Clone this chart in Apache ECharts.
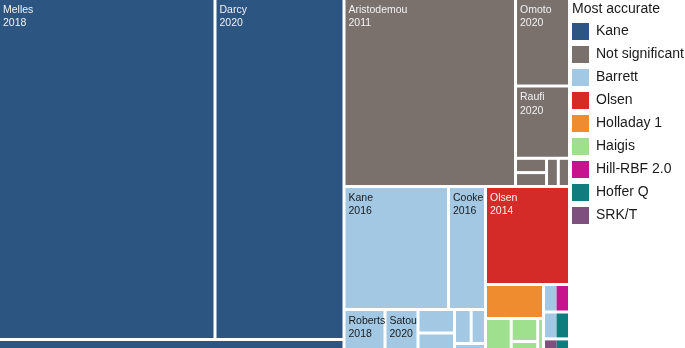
<!DOCTYPE html>
<html>
<head>
<meta charset="utf-8">
<script src="https://cdn.jsdelivr.net/npm/echarts@6/dist/echarts.min.js"></script>
<style>
  html, body { margin: 0; padding: 0; background: #fff; }
  #chart { width: 685px; height: 348px; }
</style>
</head>
<body>
<div id="chart"></div>
<script>
// legend: most accurate formula per study
var categories = ['Kane', 'Not significant', 'Barrett', 'Olsen', 'Holladay 1', 'Haigis', 'Hill-RBF 2.0', 'Hoffer Q', 'SRK/T'];
var palette = ['#2c5582', '#7a706c', '#a2c8e4', '#d42a28', '#f08c30', '#9ee08e', '#c8148c', '#0f7d7d', '#7d507d'];

// studies (size = number of eyes), '' = too small to label
var studyAuthor = ['Melles', 'Darcy', '',
                   'Aristodemou', 'Omoto', 'Raufi', '', '', '', '',
                   'Kane', 'Cooke', 'Roberts', 'Satou', '', '', '', '', '',
                   'Olsen',
                   '',
                   '', '', '', ''];
var studyYear = [2018, 2020, null,
                 2011, 2020, 2020, null, null, null, null,
                 2016, 2016, 2018, 2020, null, null, null, null, null,
                 2014,
                 null,
                 null, null, null, null];
var studyEyes = [18501, 11024, 866,
                 8080, 1184, 978, 111, 108, 83, 79,
                 3221, 1140, 411, 331, 214, 152, 142, 122, 47,
                 2063,
                 493,
                 200, 154, 53, 45];
var studyGroup = ['Kane', 'Kane', 'Kane',
                  'Not significant', 'Not significant', 'Not significant', 'Not significant', 'Not significant', 'Not significant', 'Not significant',
                  'Barrett', 'Barrett', 'Barrett', 'Barrett', 'Barrett', 'Barrett', 'Barrett', 'Barrett', 'Barrett',
                  'Olsen',
                  'Holladay 1',
                  'Haigis', 'Haigis', 'Haigis', 'Haigis'];

// studies where two formulas tie
var tiedGroups = [['Barrett', 'Hill-RBF 2.0'], ['Barrett', 'Hoffer Q'], ['SRK/T', 'Hoffer Q']];
var tiedEyes = [[90, 89], [88, 87], [35, 34]];

var darkText = ['Barrett', 'Holladay 1', 'Haigis'];
var font = 'Liberation Sans';

function colorOf(name) {
  return palette[categories.indexOf(name)];
}

var treeData = [];
categories.forEach(function (cat) {
  var kids = [];
  for (var i = 0; i < studyAuthor.length; i++) {
    if (studyGroup[i] != cat) continue;
    kids.push({
      name: studyAuthor[i] ? studyAuthor[i] + '\n' + studyYear[i] : '',
      value: studyEyes[i],
      label: { color: darkText.indexOf(cat) >= 0 ? '#1a1a1a' : '#f2f2f2' }
    });
  }
  if (kids.length) {
    treeData.push({ name: cat, itemStyle: { color: colorOf(cat) }, children: kids });
  }
});
tiedGroups.forEach(function (pair, k) {
  treeData.push({
    name: pair.join(' / '),
    itemStyle: { color: colorOf(pair[0]), gapWidth: 0 },
    children: pair.map(function (cat, j) {
      return { name: '', value: tiedEyes[k][j], itemStyle: { color: colorOf(cat) } };
    })
  });
});

var myChart = echarts.init(document.getElementById('chart'));
var option = {
  animation: false,
  title: {
    text: 'Most accurate',
    left: 572,
    top: 2,
    padding: 0,
    textStyle: { fontSize: 14, fontWeight: 'normal', color: '#1a1a1a', fontFamily: font }
  },
  legend: {
    orient: 'vertical',
    left: 572,
    top: 23,
    padding: 0,
    itemWidth: 17,
    itemHeight: 17,
    itemGap: 6,
    icon: 'rect',
    selectedMode: false,
    textStyle: { fontSize: 14, color: '#1a1a1a', fontFamily: font, padding: [0, 0, 0, 2] },
    data: categories
  },
  series: [
    {
      // only feeds the legend
      type: 'pie',
      radius: 0,
      center: [-50, -50],
      silent: true,
      label: { show: false },
      labelLine: { show: false },
      data: categories.map(function (c) {
        return { name: c, value: 0, itemStyle: { color: colorOf(c) } };
      })
    },
    {
      type: 'treemap',
      left: 0,
      top: 0,
      width: 568,
      height: 348,
      roam: false,
      nodeClick: false,
      visibleMin: 0,
      breadcrumb: { show: false },
      upperLabel: { show: false },
      itemStyle: { borderWidth: 0, gapWidth: 3, borderColor: '#fff' },
      emphasis: { disabled: true },
      label: {
        show: true,
        position: 'insideTopLeft',
        distance: 0,
        padding: [3, 3, 0, 3],
        fontSize: 10.5,
        lineHeight: 13.5,
        fontFamily: font,
        overflow: 'none'
      },
      data: treeData
    }
  ]
};
myChart.setOption(option);
</script>
</body>
</html>
